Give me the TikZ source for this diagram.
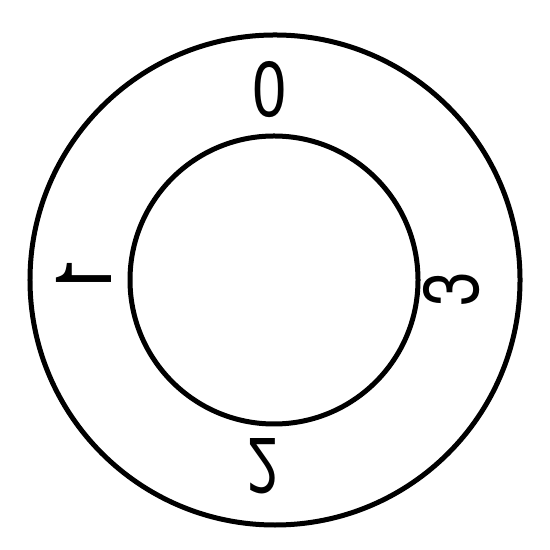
\documentclass[tikz,border=0pt]{standalone}
\usepackage{fontspec}
\usepackage{graphicx}
\setmainfont{TeX Gyre Heros}
\newfontfamily\dvfont{DejaVu Sans}
\begin{document}
\begin{tikzpicture}[x=1bp,y=1bp,
  ring/.style={draw=black,line width=5bp},
  digit/.style={inner sep=0pt,font=\fontsize{78}{78}\selectfont}]
\useasboundingbox (0,0) rectangle (550,550);
\node[ring,circle,minimum size=490bp] (outer) at (275,270) {};
\node[ring,circle,minimum size=288bp] (inner) at (274,270) {};
\node[digit] (d0) at (270,460) {\scalebox{0.8}[1]{0}};
\node[digit,rotate=90] (d1) at (84,273) {\reflectbox{1}};
\node[digit,rotate=180] (d2) at (264,84) {\reflectbox{\scalebox{0.72}[1]{\dvfont\fontsize{75}{75}\selectfont 2}}};
\node[digit,rotate=90] (d3) at (452,261) {\scalebox{0.8}[1]{3}};
\end{tikzpicture}
\end{document}
